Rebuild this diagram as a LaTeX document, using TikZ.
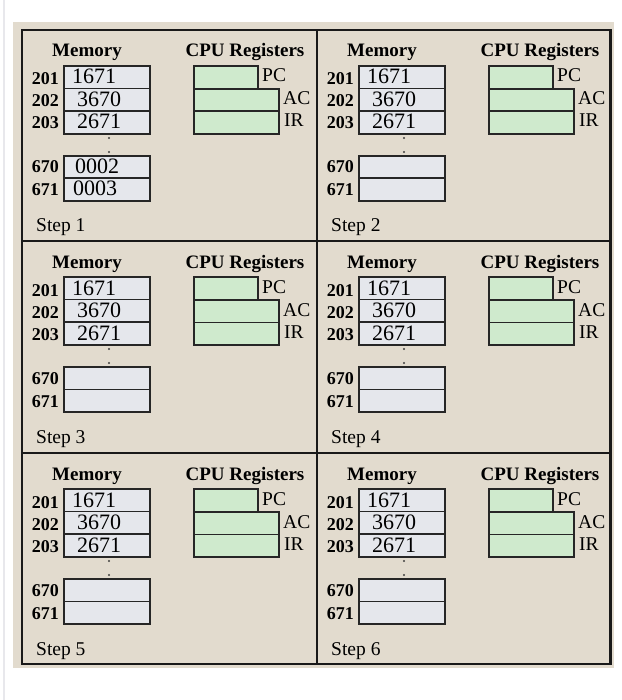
\documentclass[tikz,border=0pt]{standalone}
\usepackage{fontspec}
\setmainfont{Liberation Serif}
\definecolor{bgc}{RGB}{226,219,206}
\definecolor{memfill}{RGB}{229,231,236}
\definecolor{regfill}{RGB}{207,234,205}
\definecolor{edgegray}{RGB}{232,232,236}
\tikzset{
 frame/.style={line width=2.8pt, draw=black!90},
 cell/.style={draw=black!85, line width=1.6pt, fill=memfill, rectangle, inner sep=0, anchor=north west},
 reg/.style={draw=black!85, line width=1.6pt, fill=regfill, rectangle, inner sep=0, anchor=north west},
 title/.style={font=\fontsize{19}{21}\selectfont\bfseries, anchor=base, inner sep=0},
 addr/.style={font=\fontsize{18}{20}\selectfont\bfseries, anchor=base east, inner sep=0},
 val/.style={font=\fontsize{22}{24}\selectfont, anchor=base, inner sep=0},
 rlab/.style={font=\fontsize{19.5}{21}\selectfont, anchor=base west, inner sep=0},
 steplab/.style={font=\fontsize{19.5}{21}\selectfont, anchor=base west, inner sep=0},
 memdot/.style={circle, fill=black!75, inner sep=0, minimum size=2.4pt}
}
\newcommand\drawpanel[6]{%
\begin{scope}[shift={(#2,#3)}]
 \node[title] (#1mt) at (65,27) {Memory};
 \node[title] (#1ct) at (223,27) {CPU Registers};
 \node[cell, minimum width=86pt, minimum height=22.67pt] (#1ca) at (41,35) {};
 \node[cell, minimum width=86pt, minimum height=22.67pt] (#1cb) at (41,57.67) {};
 \node[cell, minimum width=86pt, minimum height=22.67pt] (#1cc) at (41,80.33) {};
 \node[val] (#1va) at (72,54) {1671};
 \node[val] (#1vb) at (77,76.5) {3670};
 \node[val] (#1vc) at (77,99) {2671};
 \node[addr] (#1aa) at (37,55) {201};
 \node[addr] (#1ab) at (37,77) {202};
 \node[addr] (#1ac) at (37,99) {203};
 \node[memdot] (#1da) at (87,108) {};
 \node[memdot] (#1db) at (87,122) {};
 \node[cell, minimum width=86pt, minimum height=22.5pt] (#1cd) at (41,125) {};
 \node[cell, minimum width=86pt, minimum height=22.5pt] (#1ce) at (41,147.5) {};
 \node[addr] (#1ad) at (37,143) {670};
 \node[addr] (#1ae) at (37,166) {671};
 \node[val] (#1vd) at (75,143.5) {#5};
 \node[val] (#1ve) at (73,166) {#6};
 \node[reg, minimum width=64pt, minimum height=23pt] (#1rpc) at (171,35) {};
 \node[reg, minimum width=85pt, minimum height=22.5pt] (#1rac) at (171,58) {};
 \node[reg, minimum width=85pt, minimum height=22.5pt] (#1rir) at (171,80.5) {};
 \node[rlab] (#1lpc) at (240,52) {PC};
 \node[rlab] (#1lac) at (261,75) {AC};
 \node[rlab] (#1lir) at (262,97) {IR};
 \node[steplab] (#1st) at (14,202) {#4};
\end{scope}}
\begin{document}
\begin{tikzpicture}[x=1pt,y=-1pt]
 \useasboundingbox (0,0) rectangle (621,700);
 \fill[white] (0,0) rectangle (621,700);
 \draw[edgegray, line width=2pt] (4,0) -- (4,700);
 \fill[bgc] (13,22) rectangle (614,668);
 \drawpanel{s1}{22}{30}{Step 1}{0002}{0003}
 \drawpanel{s2}{317}{30}{Step 2}{}{}
 \drawpanel{s3}{22}{241}{Step 3}{}{}
 \drawpanel{s4}{317}{241}{Step 4}{}{}
 \drawpanel{s5}{22}{453}{Step 5}{}{}
 \drawpanel{s6}{317}{453}{Step 6}{}{}
 \coordinate (ftl) at (22,30);
 \coordinate (fbr) at (610.5,664);
 \coordinate (vt) at (317,30);
 \coordinate (vb) at (317,664);
 \coordinate (h1l) at (22,241);
 \coordinate (h1r) at (610.5,241);
 \coordinate (h2l) at (22,453);
 \coordinate (h2r) at (610.5,453);
 \draw[frame] (ftl) rectangle (fbr);
 \draw[frame] (vt) -- (vb);
 \draw[frame] (h1l) -- (h1r);
 \draw[frame] (h2l) -- (h2r);
\end{tikzpicture}
\end{document}
